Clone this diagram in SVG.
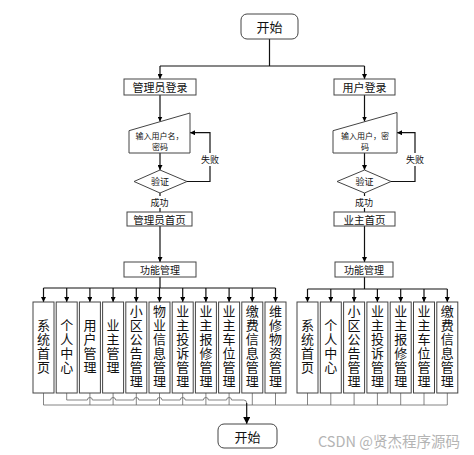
<svg xmlns="http://www.w3.org/2000/svg" width="474" height="455" viewBox="0 0 474 455">
<defs>
<marker id="ar" viewBox="0 0 10 10" refX="10" refY="5" markerWidth="5" markerHeight="5" orient="auto" markerUnits="userSpaceOnUse">
<path d="M0,0 L10,5 L0,10 z" fill="#000"/>
</marker>
<marker id="ar2" viewBox="0 0 10 10" refX="10" refY="5" markerWidth="7" markerHeight="7" orient="auto" markerUnits="userSpaceOnUse">
<path d="M0,0 L10,5 L0,10 z" fill="#000"/>
</marker>
</defs>
<style>
text{font-family:"Noto Sans CJK SC","Noto Sans",sans-serif;fill:#111;text-anchor:middle;dominant-baseline:central}
.b{fill:#fff;stroke:#444;stroke-width:1}
.c{fill:none;stroke:#111;stroke-width:1.2}
.g{fill:none;stroke:#666;stroke-width:0.8}
.v{font-size:13px;writing-mode:vertical-rl;letter-spacing:1px}
.s{font-size:8px}
.m{font-size:9px}
.l{font-size:10.5px}
</style>
<rect width="474" height="455" fill="#fff"/>

<g id="connectors">
<path class="c" d="M269.5,39 V66 M160,66 H364.5"/>
<path class="c" d="M160,66 V79" marker-end="url(#ar)"/>
<path class="c" d="M364.5,66 V79" marker-end="url(#ar)"/>
<path class="c" d="M160,95 V121.5" marker-end="url(#ar)"/>
<path class="c" d="M364.5,95 V121.5" marker-end="url(#ar)"/>
<path class="c" d="M160,153 V170" marker-end="url(#ar)"/>
<path class="c" d="M364.5,153 V170" marker-end="url(#ar)"/>
<path class="c" d="M187,181.5 H210 V132.7 H190" marker-end="url(#ar)"/>
<path class="c" d="M391,181.5 H415 V132.7 H397" marker-end="url(#ar)"/>
<path class="c" d="M160,193 V212"/>
<path class="c" d="M364.5,193 V212"/>
<path class="c" d="M160,226 V262" marker-end="url(#ar)"/>
<path class="c" d="M364.5,226 V262" marker-end="url(#ar)"/>
<path class="c" d="M160,277 V288 M43.5,288 H275.5"/>
<path class="c" d="M364.5,277 V289 M307.5,289 H447.3"/>
<g marker-end="url(#ar)">
<path class="c" d="M43.5,288 V302"/><path class="c" d="M66.7,288 V302"/><path class="c" d="M89.9,288 V302"/><path class="c" d="M113.1,288 V302"/><path class="c" d="M136.3,288 V302"/><path class="c" d="M159.5,288 V302"/><path class="c" d="M182.7,288 V302"/><path class="c" d="M205.9,288 V302"/><path class="c" d="M229.1,288 V302"/><path class="c" d="M252.3,288 V302"/><path class="c" d="M275.5,288 V302"/>
<path class="c" d="M307.5,289 V302"/><path class="c" d="M330.8,289 V302"/><path class="c" d="M354.1,289 V302"/><path class="c" d="M377.4,289 V302"/><path class="c" d="M400.7,289 V302"/><path class="c" d="M424,289 V302"/><path class="c" d="M447.3,289 V302"/>
</g>
<path class="g" d="M43.5,393 V405 H447.3 M89.9,393 V405 M113.1,393 V405 M136.3,393 V405 M159.5,393 V405 M182.7,393 V405 M205.9,393 V405 M229.1,393 V405 M252.3,393 V405 M275.5,393 V405 M307.5,393 V405 M330.8,393 V405 M354.1,393 V405 M377.4,393 V405 M400.7,393 V405 M424,393 V405 M447.3,393 V405"/>
<path class="g" d="M66.7,393 V400 H87.4 a2.5,2.5 0 0 1 5,0 H110.6 a2.5,2.5 0 0 1 5,0 H133.8 a2.5,2.5 0 0 1 5,0 H157 a2.5,2.5 0 0 1 5,0 H180.2 a2.5,2.5 0 0 1 5,0 H203.4 a2.5,2.5 0 0 1 5,0 H226.6 a2.5,2.5 0 0 1 5,0 H243.7 q3,0 3,3"/>
<path class="c" d="M246.7,403 V424" marker-end="url(#ar2)"/>
</g>

<g id="start"><rect class="b" x="241" y="14" width="57" height="25" rx="6"/><text x="269.5" y="26.5" font-size="13">开始</text></g>
<g id="adminLogin"><rect class="b" x="124" y="79" width="72" height="16"/><text x="160" y="87" font-size="11">管理员登录</text></g>
<g id="userLogin"><rect class="b" x="334" y="79" width="61" height="16"/><text x="364.5" y="87" font-size="11">用户登录</text></g>

<g id="adminInput"><polygon class="b" points="129,130.7 190,113 190,153 129,153"/><text class="s" x="159.5" y="135.5">输入用户名，</text><text class="s" x="160" y="146">密码</text></g>
<g id="userInput"><polygon class="b" points="333,130.7 397,112.5 397,153 333,153"/><text class="s" x="365" y="135.5">输入用户，密</text><text class="s" x="365" y="146">码</text></g>

<g id="adminVerify"><polygon class="b" points="160,170 187,181.5 160,193 134,181.5"/><text class="m" x="160" y="181.5">验证</text></g>
<g id="userVerify"><polygon class="b" points="364.5,170 391,181.5 364.5,193 337,181.5"/><text class="m" x="364.5" y="181.5">验证</text></g>

<g id="labels">
<rect x="202" y="153" width="16" height="13" fill="#fff"/><text class="m" x="210" y="159.5">失败</text>
<rect x="407" y="153" width="16" height="13" fill="#fff"/><text class="m" x="415" y="159.5">失败</text>
<rect x="150" y="196" width="20" height="12" fill="#fff"/><text class="m" x="159.5" y="202">成功</text>
<rect x="354" y="196" width="20" height="12" fill="#fff"/><text class="m" x="364" y="202">成功</text>
</g>

<g id="adminHome"><rect class="b" x="127" y="212" width="65" height="14"/><text class="l" x="159.5" y="219">管理员首页</text></g>
<g id="userHome"><rect class="b" x="334" y="212" width="61" height="14"/><text class="l" x="364.5" y="219">业主首页</text></g>

<g id="adminFunc"><rect class="b" x="124" y="262" width="72" height="15"/><text x="160" y="269.5" font-size="10">功能管理</text></g>
<g id="userFunc"><rect class="b" x="335" y="262" width="58" height="15"/><text x="364" y="269.5" font-size="10">功能管理</text></g>

<g id="adminModules">
<g id="a1"><rect class="b" x="33" y="302" width="21" height="91"/><text class="v" x="43.5" y="347">系统首页</text></g>
<g id="a2"><rect class="b" x="56.2" y="302" width="21" height="91"/><text class="v" x="66.7" y="347">个人中心</text></g>
<g id="a3"><rect class="b" x="79.4" y="302" width="21" height="91"/><text class="v" x="89.9" y="347">用户管理</text></g>
<g id="a4"><rect class="b" x="102.6" y="302" width="21" height="91"/><text class="v" x="113.1" y="347">业主管理</text></g>
<g id="a5"><rect class="b" x="125.8" y="302" width="21" height="91"/><text class="v" x="136.3" y="347">小区公告管理</text></g>
<g id="a6"><rect class="b" x="149" y="302" width="21" height="91"/><text class="v" x="159.5" y="347">物业信息管理</text></g>
<g id="a7"><rect class="b" x="172.2" y="302" width="21" height="91"/><text class="v" x="182.7" y="347">业主投诉管理</text></g>
<g id="a8"><rect class="b" x="195.4" y="302" width="21" height="91"/><text class="v" x="205.9" y="347">业主报修管理</text></g>
<g id="a9"><rect class="b" x="218.6" y="302" width="21" height="91"/><text class="v" x="229.1" y="347">业主车位管理</text></g>
<g id="a10"><rect class="b" x="241.8" y="302" width="21" height="91"/><text class="v" x="252.3" y="347">缴费信息管理</text></g>
<g id="a11"><rect class="b" x="265" y="302" width="21" height="91"/><text class="v" x="275.5" y="347">维修物资管理</text></g>
</g>

<g id="userModules">
<g id="u1"><rect class="b" x="297" y="302" width="21" height="91"/><text class="v" x="307.5" y="347">系统首页</text></g>
<g id="u2"><rect class="b" x="320.3" y="302" width="21" height="91"/><text class="v" x="330.8" y="347">个人中心</text></g>
<g id="u3"><rect class="b" x="343.6" y="302" width="21" height="91"/><text class="v" x="354.1" y="347">小区公告管理</text></g>
<g id="u4"><rect class="b" x="366.9" y="302" width="21" height="91"/><text class="v" x="377.4" y="347">业主投诉管理</text></g>
<g id="u5"><rect class="b" x="390.2" y="302" width="21" height="91"/><text class="v" x="400.7" y="347">业主报修管理</text></g>
<g id="u6"><rect class="b" x="413.5" y="302" width="21" height="91"/><text class="v" x="424" y="347">业主车位管理</text></g>
<g id="u7"><rect class="b" x="436.8" y="302" width="21" height="91"/><text class="v" x="447.3" y="347">缴费信息管理</text></g>
</g>

<g id="end"><rect class="b" x="218" y="424" width="59" height="24" rx="6"/><text x="247.5" y="436" font-size="13">开始</text></g>

<text x="318" y="440" font-size="14.5" style="text-anchor:start;fill:#b4b4b4">CSDN @贤杰程序源码</text>
</svg>
